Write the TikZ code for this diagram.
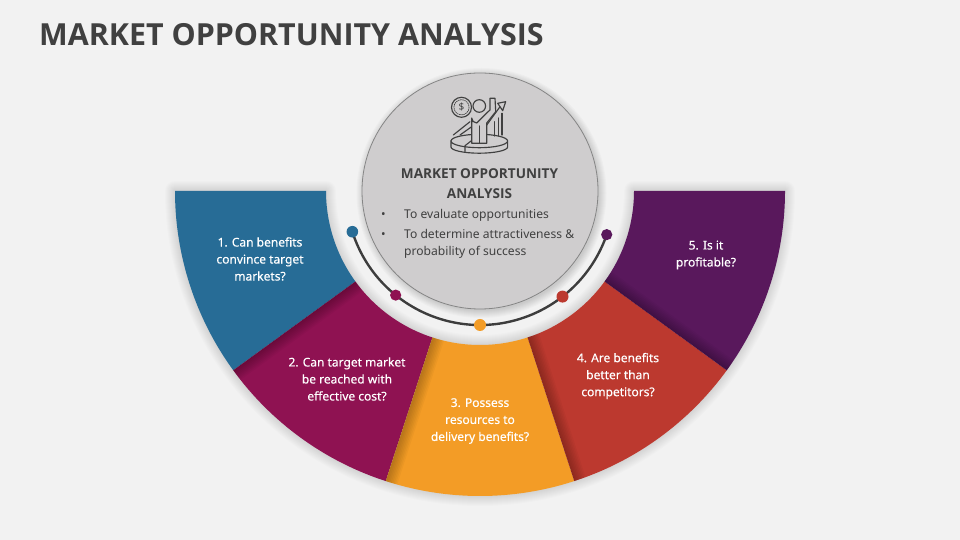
\documentclass[tikz,border=0pt]{standalone}
\usepackage{fontspec}
\setmainfont{Noto Sans}
\newfontfamily\semifont{Noto Sans}[FakeBold=0.35]
\newfontfamily\headfont{Open Sans}
\definecolor{Bg}{RGB}{242,242,242}
\definecolor{A}{RGB}{39,108,150}
\definecolor{M}{RGB}{143,18,82}
\definecolor{O}{RGB}{243,156,38}
\definecolor{R}{RGB}{188,57,47}
\definecolor{P}{RGB}{89,24,92}
\definecolor{Disc}{RGB}{207,205,206}
\definecolor{Ink}{RGB}{64,64,64}
\newcommand{\sectorpath}[2]{([shift={(ctr)}]#1:305pt) arc (#1:#2:305pt) -- ([shift={(ctr)}]#2:154pt) arc (#2:#1:154pt) -- cycle}
\newcommand{\drawsector}[3]{\fill[#1] \sectorpath{#2}{#3};}
\newcommand{\darkedge}[3]{
  \begin{scope}
    \clip \sectorpath{#2}{#3};
    \foreach \w in {3,6,...,24}{
      \draw[black,opacity=.03,line width=\w pt] ([shift={(ctr)}]#2:150pt)--([shift={(ctr)}]#2:310pt);
    }
  \end{scope}
}
\newcommand{\numberdot}[3]{\fill[#1] ([shift={(ctr)}]#2:134pt) circle (#3pt);}
\tikzset{
  seglabel/.style={text=white,align=center,font=\semifont\fontsize{12}{17}\selectfont},
  listlabel/.style={text=Ink,anchor=base west,font=\fontsize{12.1}{17}\selectfont,align=left},
  iconline/.style={draw=Ink,line width=1.15pt,line join=round,line cap=round}
}
\begin{document}
\begin{tikzpicture}[x=1pt,y=1pt]
\useasboundingbox (0,0) rectangle (960,540);
\fill[Bg] (0,0) rectangle (960,540);
\coordinate (ctr) at (480,349);
\foreach \w in {20,18,...,2}{
  \draw[black,opacity=.013,line width=\w pt,line join=round] \sectorpath{180}{360};
}
\drawsector{A}{180}{216}
\drawsector{M}{216}{252}
\drawsector{O}{252}{288}
\drawsector{R}{288}{324}
\drawsector{P}{324}{360}
\darkedge{M}{216}{252}
\darkedge{O}{252}{288}
\darkedge{R}{288}{324}
\darkedge{P}{324}{360}
\foreach \w in {14,12,...,0}{
  \fill[black,opacity=.02] ([shift={(1.5,-2)}]ctr) circle (118pt+\w pt*.5);
}
\fill[Disc,draw=black!48,line width=.8pt] (ctr) circle (118pt);
\draw[Ink!95!black,line width=2.4pt] ([shift={(ctr)}]197.5:134pt) arc (197.5:341:134pt);
\numberdot{A}{197.7}{5.8}
\numberdot{M}{231}{5.6}
\numberdot{O}{270}{6}
\numberdot{R}{308}{6}
\numberdot{P}{341}{5.6}
\begin{scope}[shift={(0,540)},yscale=-1]
  \draw[iconline] (461.5,107.3) circle (10pt);
  \draw[iconline,densely dotted,line width=.7pt] (461.5,107.3) circle (7.6pt);
  \node[text=Ink,inner sep=0pt,font=\fontsize{10}{10}\selectfont] (dollar) at (461.5,107.3) {\$};
  \draw[iconline] (453.3,135)--(470,121.7);
  \draw[iconline] (460,135)--(471.7,126.7);
  \draw[iconline] (494.3,121.7)--(494.3,136);
  \draw[iconline] (498.3,118)--(498.3,136);
  \draw[iconline] (502,113.3)--(502,135);
  \draw[iconline] (486,126)--(500,106.7);
  \draw[iconline] (505.7,101.7)--(497.7,103.3)--(500,106.7)--(502.7,110.7)--cycle;
  \draw[iconline,fill=Disc] (451,141) arc (180:360:28.3 and -6.7)--(507.6,147) arc (360:180:28.3 and -6.2)--cycle;
  \draw[iconline] (451,141) arc (180:0:28.3 and -6.7);
  \draw[iconline] (471.7,140.5)--(465,145.7)--(465,151.5);
  \draw[iconline,fill=Disc] (471.7,143.3)--(471.7,118) arc (180:90:5)--(486.7,113)--(490,110)--(490,98.3)--(495,98.3)--(495.7,111.7)--(486.7,123)--(486.7,143.3)--cycle;
  \draw[iconline] (479.3,126)--(479.3,143.3);
  \draw[iconline,fill=Disc] (479.3,106) circle (6.3pt);
\end{scope}
\node[anchor=base west,inner sep=0pt,text=Ink,font=\headfont\fontsize{30.4}{33}\selectfont\bfseries] (title) at (39,494) {MARKET OPPORTUNITY ANALYSIS};
\node[text=Ink,align=center,font=\headfont\fontsize{13.6}{20}\selectfont\bfseries] (head) at (479.5,356) {MARKET OPPORTUNITY\\ANALYSIS};
\node[listlabel,inner sep=0pt] (bulleta) at (381,321.5) {•};
\node[listlabel,inner sep=0pt] (lista) at (404,321.5) {To evaluate opportunities};
\node[listlabel,inner sep=0pt] (bulletb) at (381,301.5) {•};
\node[listlabel,inner sep=0pt] (listb) at (404,301.5) {To determine attractiveness \&};
\node[listlabel,inner sep=0pt] (listc) at (404,284.5) {probability of success};
\node[seglabel] (one) at (260,281) {1. Can benefits\\convince target\\markets?};
\node[seglabel] (two) at (347,161) {2. Can target market\\be reached with\\effective cost?};
\node[seglabel] (three) at (480,119) {3. Possess\\resources to\\delivery benefits?};
\node[seglabel] (four) at (618,164) {4. Are benefits\\better than\\competitors?};
\node[seglabel] (five) at (706,285) {5. Is it\\profitable?};
\end{tikzpicture}
\end{document}
